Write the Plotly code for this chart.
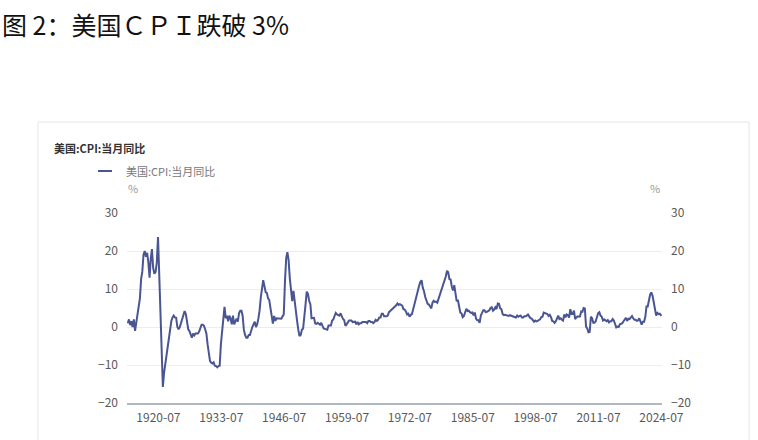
import plotly.graph_objects as go
import pandas as pd

# US CPI YoY (%), quarterly readings (Mar, Jun, Sep, Dec)
cpi_1910s = [1.0, 2.0, 0.5, 1.5,
             0.0, 2.0, -1.0, 1.5,
             3.0, 6.0, 7.5, 12.6,
             14.5, 19.0, 20.0, 18.5,
             19.5, 17.0, 13.0, 18.0,
             20.5, 15.5, 14.0, 14.5]
cpi_1920s = [17.0, 23.7, 12.5, 2.6,
             -7.0, -15.8, -12.0, -9.5,
             -8.0, -5.5, -3.0, -0.5,
             1.5, 2.5, 3.0, 2.5,
             2.4, 0.0, -0.6, 0.0,
             1.2, 2.4, 3.5, 4.2,
             3.4, 1.1, -0.6, -1.1,
             -2.2, -2.8, -1.7, -2.2,
             -1.7, -1.7, -1.7, -1.2,
             0.0, 0.6, 0.6, 0.3]
cpi_1930s = [-0.6, -1.7, -4.6, -6.4,
             -8.9, -9.4, -9.6, -9.3,
             -10.2, -10.3, -10.6, -10.3,
             -10.2, -4.5, -0.7, 0.8,
             5.3, 2.3, 3.0, 1.5,
             3.0, 2.2, 0.7, 3.0,
             0.7, 1.5, 2.2, 1.4,
             3.6, 4.3, 4.3, 2.9,
             -0.7, -2.1, -2.8, -2.8,
             -2.1, -2.1, -0.7, 0.0]
cpi_1940s = [0.7, 1.4, 0.0, 0.7,
             2.2, 4.3, 7.8, 9.9,
             12.3, 10.8, 9.2, 9.0,
             7.6, 7.1, 5.2, 3.0,
             0.9, 2.9, 1.6, 2.3,
             2.3, 2.2, 2.2, 2.2,
             2.8, 3.3, 12.0, 18.1,
             19.7, 17.6, 12.8, 8.8,
             6.8, 9.5, 6.5, 3.0,
             1.7, -0.7, -2.4, -2.1]
cpi_1950s = [-0.7, -0.4, 2.1, 5.9,
             9.3, 8.7, 6.9, 6.0,
             2.3, 2.3, 2.4, 0.9,
             0.8, 1.1, 0.8, 0.6,
             1.1, 0.4, -0.4, -0.5,
             -0.7, -0.7, 0.4, 0.4,
             0.4, 1.7, 2.0, 2.9,
             3.7, 3.3, 3.2, 3.0,
             3.6, 2.8, 2.1, 1.8,
             0.3, 0.7, 1.3, 1.7]
cpi_1960s = [1.7, 1.7, 1.3, 1.4,
             1.4, 0.7, 1.3, 0.7,
             1.0, 1.0, 1.3, 1.3,
             1.3, 1.3, 1.0, 1.6,
             1.6, 1.3, 1.3, 1.0,
             1.3, 1.9, 1.6, 1.9,
             2.5, 2.5, 3.5, 3.5,
             2.8, 2.8, 2.8, 3.0,
             3.9, 4.2, 4.5, 4.7,
             5.2, 5.5, 5.7, 6.2]
cpi_1970s = [5.8, 6.0, 5.7, 5.6,
             4.7, 4.6, 4.1, 3.3,
             3.5, 2.7, 3.2, 3.4,
             4.6, 6.0, 7.4, 8.7,
             10.2, 10.9, 11.9, 12.3,
             10.3, 9.4, 7.9, 6.9,
             6.1, 5.9, 5.5, 4.9,
             6.4, 6.9, 6.6, 6.7,
             6.4, 7.4, 8.3, 9.0,
             10.1, 10.9, 12.2, 13.3]
cpi_1980s = [14.8, 14.4, 12.6, 12.5,
             10.6, 9.6, 11.0, 8.9,
             6.8, 7.1, 5.0, 3.8,
             3.6, 2.6, 2.9, 3.8,
             4.8, 4.2, 4.3, 3.9,
             3.7, 3.8, 3.1, 3.8,
             2.2, 1.8, 1.8, 1.1,
             3.0, 3.7, 4.4, 4.4,
             3.9, 4.0, 4.2, 4.4,
             5.0, 5.2, 4.3, 4.6]
cpi_1990s = [5.2, 4.7, 6.2, 6.1,
             4.9, 4.7, 3.4, 3.1,
             3.2, 3.1, 3.0, 2.9,
             3.1, 3.0, 2.7, 2.7,
             2.5, 2.5, 3.0, 2.7,
             2.9, 3.0, 2.5, 2.5,
             2.8, 2.8, 3.0, 3.3,
             2.8, 2.3, 2.2, 1.7,
             1.4, 1.7, 1.5, 1.6,
             1.7, 2.0, 2.6, 2.7]
cpi_2000s = [3.8, 3.7, 3.5, 3.4,
             2.9, 3.2, 2.6, 1.6,
             1.5, 1.1, 1.5, 2.4,
             3.0, 2.1, 2.3, 1.9,
             1.7, 3.3, 2.5, 3.3,
             3.1, 2.5, 4.7, 3.4,
             3.4, 4.3, 2.1, 2.5,
             2.8, 2.7, 2.8, 4.1,
             4.0, 5.0, 4.9, 0.1,
             -0.4, -1.4, -1.3, 2.7]
cpi_2010s = [2.3, 1.1, 1.1, 1.5,
             2.7, 3.6, 3.9, 3.0,
             2.7, 1.7, 2.0, 1.7,
             1.5, 1.8, 1.2, 1.5,
             1.5, 2.1, 1.7, 0.8,
             -0.1, 0.1, 0.0, 0.7,
             0.9, 1.0, 1.5, 2.1,
             2.4, 1.6, 2.2, 2.1,
             2.4, 2.9, 2.3, 1.9,
             1.9, 1.6, 1.7, 2.3]
cpi_2020s = [1.5, 0.6, 1.4, 1.4,
             2.6, 5.4, 5.4, 7.0,
             8.5, 9.1, 8.2, 6.5,
             5.0, 3.0, 3.7, 3.4,
             3.5, 3.0]
last_month = ["2024-07-01"]
last_value = [2.9]

tick_dates = ["1920-07-01", "1933-07-01", "1946-07-01", "1959-07-01", "1972-07-01",
              "1985-07-01", "1998-07-01", "2011-07-01", "2024-07-01"]
tick_text = ["1920-07", "1933-07", "1946-07", "1959-07", "1972-07",
             "1985-07", "1998-07", "2011-07", "2024-07"]

values = (cpi_1910s + cpi_1920s + cpi_1930s + cpi_1940s + cpi_1950s + cpi_1960s
          + cpi_1970s + cpi_1980s + cpi_1990s + cpi_2000s + cpi_2010s + cpi_2020s)
dates = list(pd.date_range("1914-03-01", periods=len(values), freq="3MS"))
dates += list(pd.to_datetime(last_month))
values += last_value

LINE = "#4a5593"
TICK = "#595959"
W, H = 758, 440
L, R, T, B = 127, 662, 213, 403


def px(x):
    return (x - L) / (R - L)


def py(y):
    return (B - y) / (B - T)


fig = go.Figure()
fig.add_trace(go.Scatter(x=dates, y=values, mode="lines",
                         line=dict(color=LINE, width=2), hoverinfo="skip",
                         showlegend=False))
fig.add_trace(go.Scatter(x=dates, y=values, mode="lines", yaxis="y2",
                         line=dict(color=LINE, width=0), opacity=0,
                         hoverinfo="skip", showlegend=False))

fig.update_layout(
    width=W, height=H,
    margin=dict(l=L, r=W - R, t=T, b=H - B, pad=0),
    plot_bgcolor="white", paper_bgcolor="white",
    font=dict(family="Noto Sans CJK SC, Noto Sans, sans-serif", size=12, color=TICK),
    xaxis=dict(type="date", range=["1914-01-01", "2024-08-15"],
               tickvals=tick_dates, ticktext=tick_text, showgrid=False,
               showline=True, linecolor="#b0b8c2", linewidth=2, ticks="",
               zeroline=False, ticklabelstandoff=3),
    yaxis=dict(range=[-20, 30], dtick=10, gridcolor="#ededed", gridwidth=1,
               zeroline=False, ticks="", ticklabelstandoff=8),
    yaxis2=dict(range=[-20, 30], dtick=10, overlaying="y", side="right",
                showgrid=False, zeroline=False, ticks="", ticklabelstandoff=8),
)

# card border
fig.add_shape(type="rect", xref="paper", yref="paper",
              x0=px(38), x1=px(749), y0=py(122), y1=py(445),
              line=dict(color="#e6e6e6", width=1), layer="below")

# legend line
fig.add_shape(type="line", xref="paper", yref="paper",
              x0=px(98), x1=px(112), y0=py(171), y1=py(171),
              line=dict(color=LINE, width=2))

annos = [
    dict(x=px(0), y=py(24), text="图 2：美国ＣＰＩ跌破 3%", xanchor="left",
         font=dict(size=25, color="#111111")),
    dict(x=px(52), y=py(148), text="<b>美国:CPI:当月同比</b>", xanchor="left",
         font=dict(size=11, color="#333333")),
    dict(x=px(124), y=py(171), text="美国:CPI:当月同比", xanchor="left",
         font=dict(size=11, color="#777777")),
    dict(x=px(133), y=py(188), text="%", xanchor="center",
         font=dict(size=11, color="#999999")),
    dict(x=px(655), y=py(188), text="%", xanchor="center",
         font=dict(size=11, color="#999999")),
]
for a in annos:
    fig.add_annotation(xref="paper", yref="paper", yanchor="middle",
                       showarrow=False, **a)

fig.write_html("out.html", config={"displayModeBar": False},
               post_script="document.body.style.margin='0';")
